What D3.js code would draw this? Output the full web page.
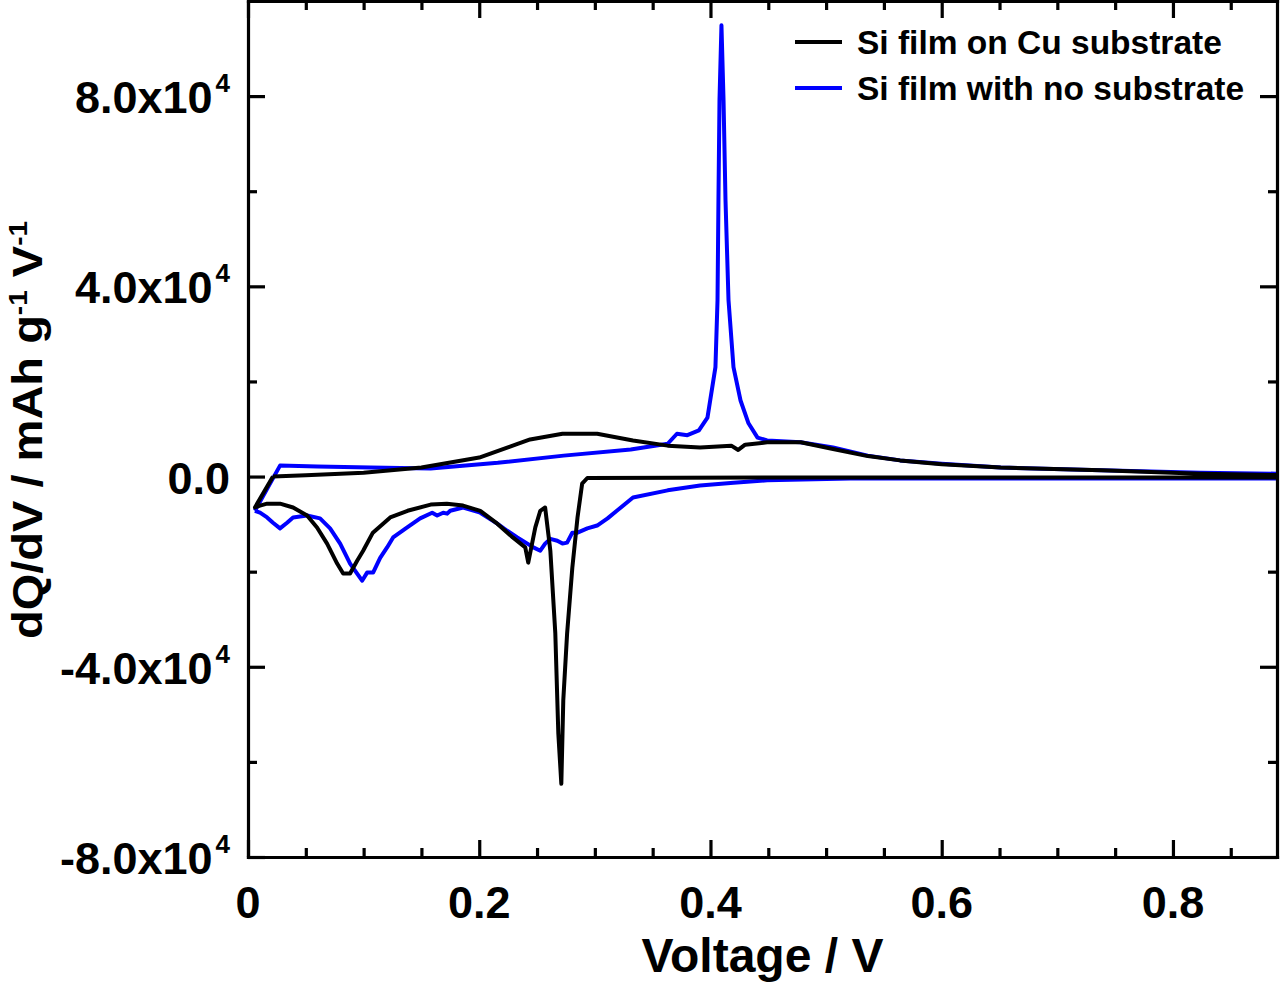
<!DOCTYPE html>
<html>
<head>
<meta charset="utf-8">
<script src="https://cdn.jsdelivr.net/npm/d3@7"></script>
<style>
  html, body { margin: 0; padding: 0; background: #fff; }
  svg { display: block; font-family: "Liberation Sans", Arial, sans-serif; }
</style>
</head>
<body>
<svg id="chart" width="1280" height="982"></svg>
<script>
// ---- data ------------------------------------------------------------
// Si film on Cu substrate: delithiation branch, then lithiation branch back
var cuV = [0.0216, 0.05, 0.1, 0.15, 0.2, 0.229, 0.244, 0.272, 0.302, 0.333, 0.363, 0.391,
  0.418, 0.424, 0.43, 0.449, 0.478, 0.506, 0.536, 0.564, 0.6, 0.651, 0.738, 0.824, 0.891,
  0.891, 0.478, 0.2935, 0.289, 0.285, 0.2805, 0.276, 0.2727, 0.271, 0.2684, 0.2658, 0.2615,
  0.257, 0.2528, 0.2485, 0.2424, 0.2398, 0.229, 0.2156, 0.2009, 0.186, 0.172, 0.158, 0.138,
  0.123, 0.108, 0.0996, 0.0944, 0.0883, 0.0823, 0.0771, 0.0684, 0.0597, 0.0511, 0.039,
  0.0277, 0.0165, 0.0104, 0.006, 0.0216];
var cuQ = [0, 300, 800, 1900, 4000, 6500, 7800, 9000, 9000, 7600, 6500, 6100,
  6500, 5600, 6700, 7200, 7200, 5800, 4300, 3400, 2600, 1900, 1300, 600, 300,
  -200, -200, -300, -1500, -8600, -19200, -33000, -47000, -64600, -54000, -33000, -15600,
  -6500, -7200, -10700, -18100, -14900, -12800, -9900, -7200, -6100, -5700, -5900, -7200,
  -8600, -11800, -15600, -17700, -20400, -20400, -18300, -14100, -10700, -8200, -6500,
  -5700, -5700, -6100, -6500, 0];

// Si film with no substrate
var freeV = [0.006, 0.0277, 0.06, 0.106, 0.158, 0.216, 0.273, 0.331, 0.363, 0.371, 0.38, 0.39,
  0.3974, 0.4043, 0.4061, 0.4069, 0.4078, 0.4095, 0.4113, 0.413, 0.4156, 0.4199, 0.426,
  0.4329, 0.4407, 0.449, 0.478, 0.506, 0.536, 0.564, 0.6, 0.651, 0.738, 0.824, 0.891,
  0.891, 0.521, 0.449, 0.42, 0.391, 0.363, 0.333, 0.319, 0.311, 0.302, 0.2935, 0.285,
  0.2805, 0.276, 0.272, 0.2675, 0.2615, 0.257, 0.2528, 0.2468, 0.2416, 0.2329, 0.2242,
  0.2156, 0.2009, 0.1861, 0.1749, 0.1723, 0.1688, 0.1636, 0.1593, 0.1489, 0.1377, 0.1255,
  0.1203, 0.1143, 0.1082, 0.103, 0.0987, 0.0944, 0.0883, 0.0797, 0.071, 0.0623, 0.0511,
  0.039, 0.0338, 0.0277, 0.0216, 0.0165, 0.0104, 0.006];
var freeQ = [-7200, 2300, 2100, 1900, 1700, 2900, 4400, 5700, 6900, 9000, 8700, 9700,
  12400, 23000, 37100, 58100, 79100, 94900, 79100, 58100, 37100, 23000, 16000,
  11200, 8200, 7600, 7200, 6100, 4400, 3400, 2700, 1900, 1300, 800, 600,
  -400, -400, -800, -1300, -1900, -2900, -4400, -7200, -8800, -10300, -10900, -11800,
  -11800, -13900, -14100, -13500, -13100, -14100, -15600, -14900, -14100, -12800, -11400,
  -9900, -7600, -6500, -7200, -7800, -7600, -8200, -7600, -8800, -10700, -12800,
  -14900, -17100, -20200, -20200, -21900, -20400, -18300, -14100, -10900, -8800, -8200,
  -8600, -9700, -10900, -9700, -8600, -7600, -7200];

var seriesNames = ["Si film on Cu substrate", "Si film with no substrate"];
var seriesColors = ["#000000", "#0000ff"];

var xMajor = [0, 0.2, 0.4, 0.6, 0.8];
var xMajorLabels = ["0", "0.2", "0.4", "0.6", "0.8"];
var xMinor = [0.05, 0.1, 0.15, 0.25, 0.3, 0.35, 0.45, 0.5, 0.55, 0.65, 0.7, 0.75, 0.85];
var yMajor = [-80000, -40000, 0, 40000, 80000];
var yMajorMant = ["-8.0x10", "-4.0x10", "0.0", "4.0x10", "8.0x10"];
var yMajorExp = ["4", "4", "", "4", "4"];
var yMinor = [-60000, -20000, 20000, 60000];

// ---- layout ------------------------------------------------------------
var L = 248, R = 1277, T = 1, B = 857;
var svg = d3.select("#chart");

var x = d3.scaleLinear().domain([0, 0.89]).range([L, R]);
var y = d3.scaleLinear().domain([-80000, 100000]).range([B, T]);

svg.append("defs").append("clipPath").attr("id", "plot-clip")
  .append("rect").attr("x", L).attr("y", T).attr("width", R - L).attr("height", B - T);

// ---- curves ------------------------------------------------------------
var line = d3.line()
  .x(function (d) { return x(d[0]); })
  .y(function (d) { return y(d[1]); });

var curves = [d3.zip(cuV, cuQ), d3.zip(freeV, freeQ)];
var plot = svg.append("g").attr("clip-path", "url(#plot-clip)");
// blue first, black drawn over it
[1, 0].forEach(function (i) {
  plot.append("path").datum(curves[i])
    .attr("d", line)
    .attr("fill", "none")
    .attr("stroke", seriesColors[i])
    .attr("stroke-width", 4)
    .attr("stroke-linejoin", "round");
});

// ---- axes (ticks inward on all four sides) ----------------------------
function styleAxis(sel) {
  sel.selectAll("path, line").attr("stroke", "#000").attr("stroke-width", 3.2);
  sel.select(".domain").attr("stroke-linecap", "square");
}

function addAxis(axisFn, scale, major, minor, transform) {
  var gMinor = svg.append("g").attr("transform", transform)
    .call(axisFn(scale).tickValues(minor).tickSize(-9).tickSizeOuter(0).tickFormat(""));
  gMinor.select(".domain").remove();
  styleAxis(gMinor);
  var gMajor = svg.append("g").attr("transform", transform)
    .call(axisFn(scale).tickValues(major).tickSize(-17).tickSizeOuter(0).tickFormat(""));
  styleAxis(gMajor);
  return gMajor;
}

addAxis(d3.axisBottom, x, xMajor, xMinor, "translate(0," + B + ")");
addAxis(d3.axisTop, x, xMajor, xMinor, "translate(0," + T + ")");
addAxis(d3.axisLeft, y, yMajor, yMinor, "translate(" + L + ",0)");
addAxis(d3.axisRight, y, yMajor, yMinor, "translate(" + R + ",0)");

// x tick labels
svg.append("g").selectAll("text").data(xMajor).enter().append("text")
  .attr("x", function (d) { return x(d); })
  .attr("y", 918)
  .attr("text-anchor", "middle")
  .style("font-size", "45px").style("font-weight", "bold")
  .text(function (d, i) { return xMajorLabels[i]; });

// y tick labels with a superscript exponent
var yl = svg.append("g").selectAll("text").data(yMajor).enter().append("text")
  .attr("x", 230)
  .attr("y", function (d) { return y(d) + 17; })
  .attr("text-anchor", "end")
  .style("font-size", "45px").style("font-weight", "bold").attr("fill", "#000");
yl.append("tspan").text(function (d, i) { return yMajorMant[i]; });
yl.append("tspan")
  .attr("dx", 3).attr("dy", -21)
  .style("font-size", "26px")
  .text(function (d, i) { return yMajorExp[i]; });

// ---- axis titles -------------------------------------------------------
svg.append("text")
  .attr("x", (L + R) / 2).attr("y", 972)
  .attr("text-anchor", "middle")
  .style("font-size", "48px").style("font-weight", "bold")
  .text("Voltage / V");

var yt = svg.append("text")
  .attr("transform", "translate(42,430) rotate(-90) scale(1.12,1)")
  .attr("text-anchor", "middle")
  .style("font-size", "42px").style("font-weight", "bold");
yt.append("tspan").text("dQ/dV / mAh g");
yt.append("tspan").attr("dy", -15).style("font-size", "25px").text("-1");
yt.append("tspan").attr("dy", 15).text(" V");
yt.append("tspan").attr("dy", -15).style("font-size", "25px").text("-1");

// ---- legend ------------------------------------------------------------
var leg = svg.append("g").selectAll("g").data(seriesNames).enter().append("g")
  .attr("transform", function (d, i) { return "translate(795," + (42 + i * 46) + ")"; });
leg.append("line")
  .attr("x1", 0).attr("x2", 47).attr("y1", 0).attr("y2", 0)
  .attr("stroke", function (d, i) { return seriesColors[i]; })
  .attr("stroke-width", 4);
leg.append("text")
  .attr("x", 62).attr("y", 12)
  .style("font-size", "33.5px").style("font-weight", "bold")
  .text(function (d) { return d; });
</script>
</body>
</html>
